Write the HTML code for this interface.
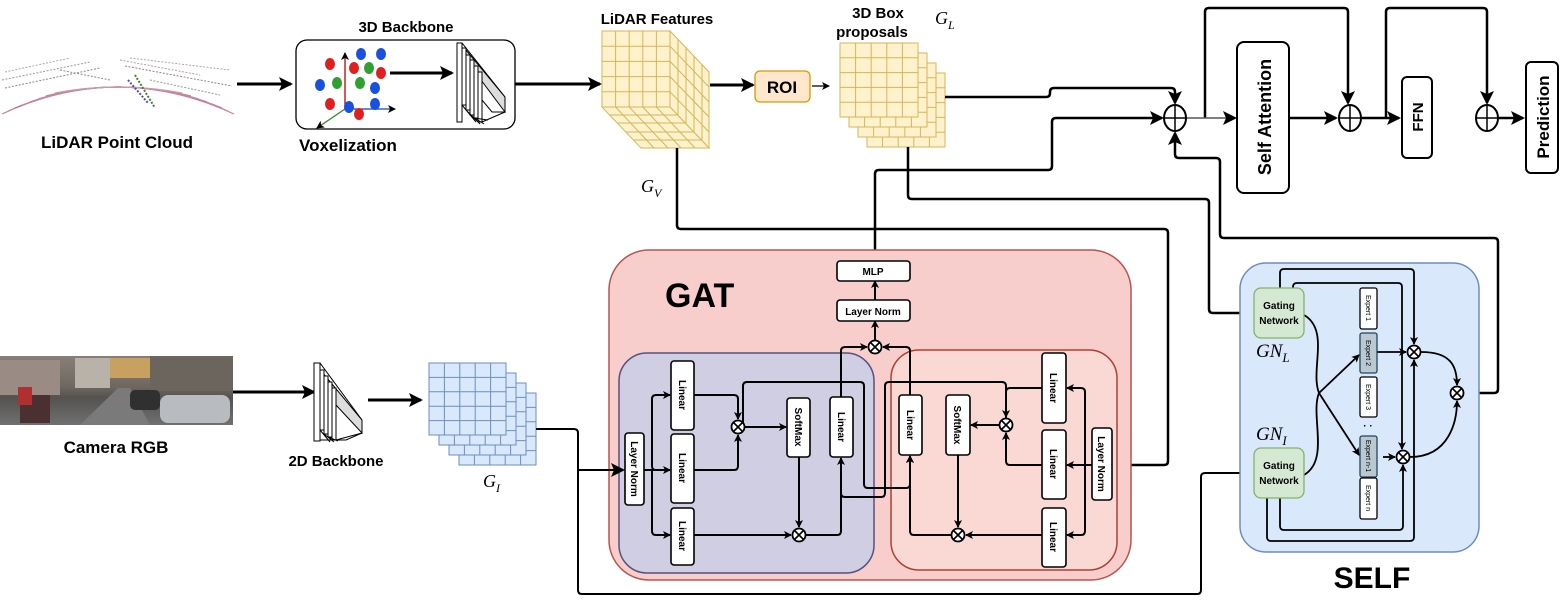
<!DOCTYPE html>
<html><head><meta charset="utf-8"><style>
html,body{margin:0;padding:0;background:#fff;}
svg{display:block;font-family:"Liberation Sans",sans-serif;}
.b{font-weight:bold;}
.m{font-family:"Liberation Serif",serif;font-style:italic;}
</style></head><body>
<svg width="1561" height="602" viewBox="0 0 1561 602" xmlns="http://www.w3.org/2000/svg">
<defs>
<marker id="a" markerWidth="8" markerHeight="8" refX="7" refY="4" orient="auto" markerUnits="userSpaceOnUse"><path d="M0,0 L8,4 L0,8 L2,4 z" fill="#000"/></marker>
<marker id="A" markerWidth="14" markerHeight="14" refX="12" refY="7" orient="auto" markerUnits="userSpaceOnUse"><path d="M0,0 L14,7 L0,14 L3,7 z" fill="#000"/></marker>
<g id="ox"><circle r="6.5" fill="#fff" stroke="#000" stroke-width="1.8"/><path d="M-4.5,-4.5L4.5,4.5M4.5,-4.5L-4.5,4.5" stroke="#000" stroke-width="1.6"/></g>
<g id="op"><ellipse rx="11" ry="13" fill="#fff" stroke="#000" stroke-width="2"/><path d="M-11,0H11M0,-13V13" stroke="#000" stroke-width="1.5"/></g>
<linearGradient id="cam" x1="0" y1="0" x2="0" y2="1"><stop offset="0" stop-color="#8a7f78"/><stop offset="0.45" stop-color="#6e6760"/><stop offset="0.6" stop-color="#55524f"/><stop offset="1" stop-color="#707070"/></linearGradient>
</defs>

<!-- LiDAR point cloud -->
<g fill="none" stroke-width="1.2">
<path d="M2,114 Q117,60 234,114" stroke="#c0809c"/>
<path d="M8,111 Q117,63 228,111" stroke="#c98aa8"/>
<path d="M15,108 Q117,66 222,108" stroke="#b87090"/>
<path d="M22,105 Q117,69 215,105" stroke="#c98aa8"/>
<path d="M30,102 Q117,72 207,102" stroke="#c0809c"/>
<path d="M38,99 Q117,75 199,99" stroke="#c98aa8"/>
<path d="M46,96 Q117,78 191,96" stroke="#b88"/>
<path d="M55,93 Q117,81 182,93" stroke="#c9a"/>
</g>
<g fill="none" stroke-width="1" stroke-dasharray="2 1.5">
<path d="M2,80 L90,62" stroke="#999"/>
<path d="M5,88 L100,68" stroke="#888"/>
<path d="M5,72 L70,58" stroke="#aaa"/>
<path d="M120,60 L200,75" stroke="#b9a"/>
<path d="M125,66 L232,86" stroke="#888"/>
<path d="M130,58 L230,70" stroke="#aaa"/>
<path d="M135,75 L155,108" stroke="#4a7a3a" stroke-width="2"/>
<path d="M128,80 L148,103" stroke="#5050a0" stroke-width="2"/>
<path d="M60,70 L110,80" stroke="#889"/>
<path d="M150,80 L220,95" stroke="#999"/>
</g>
<text x="117" y="148" text-anchor="middle" class="b" font-size="17">LiDAR Point Cloud</text>
<line x1="237" y1="84" x2="291" y2="84" stroke="#000" stroke-width="3" marker-end="url(#A)"/>

<!-- voxelization -->
<rect x="296" y="40" width="219" height="89" rx="11" fill="#fff" stroke="#000" stroke-width="1.3"/>
<text x="406" y="32" text-anchor="middle" class="b" font-size="15">3D Backbone</text>
<text x="299" y="151" class="b" font-size="17">Voxelization</text>
<line x1="345" y1="109" x2="345" y2="53" stroke="#b00" stroke-width="1.3" marker-end="url(#a)"/>
<line x1="345" y1="109" x2="395" y2="109" stroke="#1a3fb0" stroke-width="1.3" marker-end="url(#a)"/>
<line x1="345" y1="109" x2="317" y2="128" stroke="#2a8a2a" stroke-width="1.3" marker-end="url(#a)"/>
<g>
<ellipse cx="330" cy="64" rx="5" ry="6" fill="#e02020"/><ellipse cx="354" cy="68" rx="5" ry="6" fill="#e02020"/><ellipse cx="381" cy="73" rx="5" ry="6" fill="#e02020"/><ellipse cx="330" cy="104" rx="5" ry="6" fill="#e02020"/><ellipse cx="359" cy="114" rx="5" ry="6" fill="#e02020"/>
<ellipse cx="361" cy="54" rx="5" ry="6" fill="#1a50e0"/><ellipse cx="381" cy="54" rx="5" ry="6" fill="#1a50e0"/><ellipse cx="320" cy="85" rx="5" ry="6" fill="#1a50e0"/><ellipse cx="375" cy="88" rx="5" ry="6" fill="#1a50e0"/><ellipse cx="349" cy="107" rx="5" ry="6" fill="#1a50e0"/><ellipse cx="375" cy="104" rx="5" ry="6" fill="#1a50e0"/>
<ellipse cx="369" cy="68" rx="5" ry="6" fill="#30a030"/><ellipse cx="337" cy="83" rx="5" ry="6" fill="#30a030"/><ellipse cx="360" cy="83" rx="5" ry="6" fill="#30a030"/>
</g>
<line x1="390" y1="73" x2="452" y2="73" stroke="#000" stroke-width="3" marker-end="url(#A)"/>
<g stroke="#000" stroke-width="1">
<polygon points="457,43 462,43 505,97 505,112 492,112 457,70" fill="#fff"/>
<polygon points="466,50 505,97 505,112 466,60" fill="#ddd"/>
<polygon points="462,48 466,48 466,105 462,105" fill="#fff"/>
<polygon points="466,55 470,55 470,110 466,110" fill="#fff"/>
<polygon points="470,60 474,60 474,115 470,115" fill="#fff"/>
<polygon points="474,66 478,66 478,118 474,118" fill="#fff"/>
<polygon points="478,72 482,72 482,122 478,122" fill="#fff"/>
<polygon points="457,43 462,43 462,122 457,122" fill="#fff"/>
<path d="M462,105 L476,122 M466,110 L480,124 M470,115 L484,124 M474,118 L488,120 M482,122 L505,112" fill="none"/>
</g>
<line x1="515" y1="84" x2="600" y2="84" stroke="#000" stroke-width="3" marker-end="url(#A)"/>

<!-- LiDAR features cube -->
<text x="657" y="24" text-anchor="middle" class="b" font-size="15">LiDAR Features</text>
<g stroke="#d6b656" stroke-width="1" fill="#fff2cc">
<polygon points="670,31 709,72 709,148 670,107"/>
<polygon points="602,107 670,107 709,148 641,148"/>
<rect x="602" y="31" width="68" height="76"/>
<path d="M615.6,31V107M629.2,31V107M642.8,31V107M656.4,31V107M602,46.2H670M602,61.4H670M602,76.6H670M602,91.8H670" fill="none"/>
<path d="M678,39V115M686,47V123M694,56V132M702,64V140M670,46.2L709,87M670,61.4L709,102M670,76.6L709,117M670,91.8L709,132" fill="none"/>
<path d="M610,115H678M618,123H686M626,132H694M634,140H702M615.6,107L654,148M629.2,107L668,148M642.8,107L681,148M656.4,107L695,148" fill="none"/>
</g>
<text x="641" y="192" class="m" font-size="18">G<tspan font-size="12" dy="5">V</tspan></text>
<line x1="710" y1="85" x2="753" y2="85" stroke="#000" stroke-width="3" marker-end="url(#A)"/>
<rect x="755" y="71" width="55" height="31" rx="5" fill="#ffe6cc" stroke="#d79b00" stroke-width="1.3"/>
<text x="782" y="93" text-anchor="middle" class="b" font-size="17">ROI</text>
<line x1="812" y1="86" x2="829" y2="86" stroke="#000" stroke-width="1.3" marker-end="url(#a)"/>

<!-- 3D box proposals -->
<text x="878" y="18" text-anchor="middle" class="b" font-size="15">3D Box</text>
<text x="872" y="37" text-anchor="middle" class="b" font-size="15">proposals</text>
<text x="935" y="24" class="m" font-size="18">G<tspan font-size="12" dy="5">L</tspan></text>
<g stroke="#d6b656" stroke-width="1" fill="#fff2cc">
<g transform="translate(27,30)"><rect x="840" y="43" width="78" height="74"/><path d="M855.6,43V117M871.2,43V117M886.8,43V117M902.4,43V117M840,57.8H918M840,72.6H918M840,87.4H918M840,102.2H918" fill="none"/></g>
<g transform="translate(18,20)"><rect x="840" y="43" width="78" height="74"/><path d="M855.6,43V117M871.2,43V117M886.8,43V117M902.4,43V117M840,57.8H918M840,72.6H918M840,87.4H918M840,102.2H918" fill="none"/></g>
<g transform="translate(9,10)"><rect x="840" y="43" width="78" height="74"/><path d="M855.6,43V117M871.2,43V117M886.8,43V117M902.4,43V117M840,57.8H918M840,72.6H918M840,87.4H918M840,102.2H918" fill="none"/></g>
<rect x="840" y="43" width="78" height="74"/><path d="M855.6,43V117M871.2,43V117M886.8,43V117M902.4,43V117M840,57.8H918M840,72.6H918M840,87.4H918M840,102.2H918" fill="none"/>
</g>

<!-- top connectors -->
<g fill="none" stroke="#000" stroke-width="2.5">
<path d="M945,97 H1046 Q1050,97 1050,93 V92 Q1050,88 1054,88 H1171 Q1175,88 1175,92 V103" marker-end="url(#A)"/>
<path d="M875,261 V174 Q875,170 879,170 H1048 Q1052,170 1052,166 V122 Q1052,118 1056,118 H1162" marker-end="url(#A)"/>
<path d="M908,147 V195 Q908,199 912,199 H1205 Q1209,199 1209,203 V309 Q1209,313 1213,313 H1252" marker-end="url(#A)"/>
<path d="M677,148 V225 Q677,229 681,229 H1164 Q1168,229 1168,233 V461 Q1168,465 1164,465 H1114" marker-end="url(#A)"/>
<path d="M1462,393 H1494 Q1498,393 1498,389 V242 Q1498,238 1494,238 H1224 Q1220,238 1220,234 V162 Q1220,158 1216,158 H1179 Q1175,158 1175,154 V133" marker-end="url(#A)"/>
<path d="M1205,118 V12 Q1205,8 1209,8 H1344 Q1348,8 1348,12 V103" marker-end="url(#A)"/>
<path d="M1386,118 V12 Q1386,8 1390,8 H1483 Q1487,8 1487,12 V103" marker-end="url(#A)"/>
<path d="M1289,118 H1336" marker-end="url(#A)"/>
<path d="M1362,118 H1399" marker-end="url(#A)"/>
<path d="M1499,118 H1523" marker-end="url(#A)"/>
</g>
<path d="M1187,118 H1235" stroke="#555" stroke-width="1.5" fill="none" marker-end="url(#A)"/>
<use href="#op" x="1175" y="118"/>
<use href="#op" x="1350" y="118"/>
<use href="#op" x="1487" y="118"/>
<rect x="1237" y="42" width="52" height="151" rx="7" fill="#fff" stroke="#000" stroke-width="2"/>
<text transform="translate(1271,117) rotate(-90)" text-anchor="middle" class="b" font-size="18">Self Attention</text>
<rect x="1402" y="77" width="30" height="81" rx="5" fill="#fff" stroke="#000" stroke-width="2"/>
<text transform="translate(1423,117) rotate(-90)" text-anchor="middle" class="b" font-size="15">FFN</text>
<rect x="1526" y="62" width="32" height="111" rx="5" fill="#fff" stroke="#000" stroke-width="2"/>
<text transform="translate(1549,117) rotate(-90)" text-anchor="middle" class="b" font-size="17">Prediction</text>

<!-- Camera -->
<rect x="0" y="356" width="233" height="69" fill="url(#cam)"/>
<rect x="0" y="360" width="60" height="35" fill="#9a8c84"/>
<rect x="75" y="358" width="35" height="30" fill="#b8b2a8"/>
<rect x="150" y="356" width="83" height="35" fill="#6b655e"/>
<rect x="110" y="358" width="40" height="20" fill="#c8a060"/>
<path d="M80,425 L118,388 L130,388 L150,425 Z" fill="#7a7a7a"/>
<rect x="160" y="395" width="70" height="28" rx="8" fill="#b8bcc0"/>
<rect x="130" y="390" width="30" height="20" rx="5" fill="#303030"/>
<rect x="20" y="395" width="30" height="28" fill="#4a3030"/>
<rect x="18" y="387" width="14" height="18" fill="#b03030"/>
<text x="116" y="453" text-anchor="middle" class="b" font-size="17">Camera  RGB</text>
<line x1="233" y1="392" x2="314" y2="392" stroke="#000" stroke-width="3" marker-end="url(#A)"/>
<g stroke="#000" stroke-width="1">
<polygon points="314,363 320,363 362,420 362,433 346,440 314,440" fill="#fff"/>
<polygon points="322,372 362,420 362,433 322,390" fill="#ddd"/>
<rect x="320" y="370" width="4" height="60" fill="#fff"/>
<rect x="324" y="376" width="4" height="58" fill="#fff"/>
<rect x="328" y="382" width="4" height="55" fill="#fff"/>
<rect x="332" y="388" width="4" height="52" fill="#fff"/>
<rect x="314" y="363" width="6" height="78" fill="#fff"/>
<path d="M320,430 L330,442 M324,434 L334,442 M328,437 L338,441 M336,440 L362,433" fill="none"/>
</g>
<text x="336" y="466" text-anchor="middle" class="b" font-size="15">2D Backbone</text>
<line x1="368" y1="400" x2="421" y2="400" stroke="#000" stroke-width="3" marker-end="url(#A)"/>
<g stroke="#6c8ebf" stroke-width="1" fill="#dae8fc">
<g transform="translate(30,30)"><rect x="429" y="363" width="77" height="72"/><path d="M444.4,363V435M459.8,363V435M475.2,363V435M490.6,363V435M429,377.4H506M429,391.8H506M429,406.2H506M429,420.6H506" fill="none"/></g>
<g transform="translate(20,20)"><rect x="429" y="363" width="77" height="72"/><path d="M444.4,363V435M459.8,363V435M475.2,363V435M490.6,363V435M429,377.4H506M429,391.8H506M429,406.2H506M429,420.6H506" fill="none"/></g>
<g transform="translate(10,10)"><rect x="429" y="363" width="77" height="72"/><path d="M444.4,363V435M459.8,363V435M475.2,363V435M490.6,363V435M429,377.4H506M429,391.8H506M429,406.2H506M429,420.6H506" fill="none"/></g>
<rect x="429" y="363" width="77" height="72"/><path d="M444.4,363V435M459.8,363V435M475.2,363V435M490.6,363V435M429,377.4H506M429,391.8H506M429,406.2H506M429,420.6H506" fill="none"/>
</g>
<text x="483" y="487" class="m" font-size="18">G<tspan font-size="12" dy="5">I</tspan></text>

<!-- GAT -->
<rect x="609" y="250" width="522" height="330" rx="40" fill="#f8cecc" stroke="#b85450" stroke-width="1.5"/>
<text x="665" y="307" class="b" font-size="34">GAT</text>
<rect x="619" y="353" width="255" height="220" rx="28" fill="#d0cee2" stroke="#56517e" stroke-width="1.5"/>
<rect x="891" y="350" width="226" height="220" rx="28" fill="#fad9d5" stroke="#ae4132" stroke-width="1.5"/>

<g fill="none" stroke="#000" stroke-width="2">
<path d="M536,429 H574 Q578,429 578,433 V590 Q578,594 582,594 H1197 Q1201,594 1201,590 V477 Q1201,473 1205,473 H1252" marker-end="url(#A)"/>
<path d="M578,470 H623" marker-end="url(#A)"/>
<path d="M644,470 H670" marker-end="url(#a)"/>
<path d="M662,470 H656 Q652,470 652,466 V399 Q652,395 656,395 H670" marker-end="url(#a)"/>
<path d="M652,470 V531 Q652,535 656,535 H670" marker-end="url(#a)"/>
<path d="M694,395 H734 Q738,395 738,399 V419" marker-end="url(#a)"/>
<path d="M694,470 H734 Q738,470 738,466 V435" marker-end="url(#a)"/>
<path d="M745,427 H786" marker-end="url(#a)"/>
<path d="M799,457 V527" marker-end="url(#a)"/>
<path d="M694,535 H791" marker-end="url(#a)"/>
<path d="M806,535 H837 Q841,535 841,531 V458" marker-end="url(#a)"/>
<path d="M841,397 V351 Q841,347 845,347 H867" marker-end="url(#a)"/>
<path d="M910,395 V351 Q910,347 906,347 H883" marker-end="url(#a)"/>
<path d="M875,340 V321" marker-end="url(#a)"/>
<path d="M875,300 V281" marker-end="url(#a)"/>
<path d="M743,427 V386 Q743,382 747,382 H860 Q864,382 864,386 V484 Q864,488 868,488 H906 Q910,488 910,484 V456" marker-end="url(#a)"/>
<path d="M1006,425 V386 Q1006,382 1002,382 H889 Q885,382 885,386 V493 Q885,497 881,497 H845 Q841,497 841,493 V460"/>
<path d="M1092,465 H1067" marker-end="url(#a)"/>
<path d="M1085,465 V392 Q1085,388 1081,388 H1067" marker-end="url(#a)"/>
<path d="M1085,465 V531 Q1085,535 1081,535 H1067" marker-end="url(#a)"/>
<path d="M1042,388 H1010 Q1006,388 1006,392 V417" marker-end="url(#a)"/>
<path d="M1042,465 H1010 Q1006,465 1006,461 V433" marker-end="url(#a)"/>
<path d="M999,425 H971" marker-end="url(#a)"/>
<path d="M958,455 V527" marker-end="url(#a)"/>
<path d="M1042,535 H966" marker-end="url(#a)"/>
<path d="M951,535 H914 Q910,535 910,531 V456" marker-end="url(#a)"/>
</g>
<use href="#ox" x="738" y="427"/>
<use href="#ox" x="799" y="535"/>
<use href="#ox" x="875" y="347"/>
<use href="#ox" x="1006" y="425"/>
<use href="#ox" x="958" y="535"/>

<g fill="#fff" stroke="#000" stroke-width="1.6">
<rect x="837" y="261" width="73" height="20" rx="3"/>
<rect x="837" y="300" width="73" height="21" rx="3"/>
<rect x="625" y="433" width="19" height="72" rx="3"/>
<rect x="671" y="361" width="23" height="69" rx="3"/>
<rect x="671" y="434" width="23" height="69" rx="3"/>
<rect x="671" y="508" width="23" height="57" rx="3"/>
<rect x="787" y="398" width="23" height="59" rx="3"/>
<rect x="830" y="397" width="23" height="60" rx="3"/>
<rect x="899" y="395" width="23" height="60" rx="3"/>
<rect x="946" y="395" width="24" height="60" rx="3"/>
<rect x="1042" y="353" width="24" height="70" rx="3"/>
<rect x="1042" y="430" width="24" height="69" rx="3"/>
<rect x="1042" y="508" width="24" height="59" rx="3"/>
<rect x="1092" y="428" width="20" height="72" rx="3"/>
</g>
<g class="b" font-size="10" text-anchor="middle">
<text x="873" y="275">MLP</text>
<text x="873" y="315">Layer Norm</text>
<text transform="translate(631,469) rotate(90)">Layer Norm</text>
<text transform="translate(679,395) rotate(90)">Linear</text>
<text transform="translate(679,468) rotate(90)">Linear</text>
<text transform="translate(679,536) rotate(90)">Linear</text>
<text transform="translate(795,427) rotate(90)">SoftMax</text>
<text transform="translate(838,427) rotate(90)">Linear</text>
<text transform="translate(907,425) rotate(90)">Linear</text>
<text transform="translate(954,425) rotate(90)">SoftMax</text>
<text transform="translate(1050,388) rotate(90)">Linear</text>
<text transform="translate(1050,464) rotate(90)">Linear</text>
<text transform="translate(1050,537) rotate(90)">Linear</text>
<text transform="translate(1098,464) rotate(90)">Layer Norm</text>
</g>

<!-- SELF -->
<rect x="1240" y="263" width="239" height="289" rx="26" fill="#dae8fc" stroke="#6c8ebf" stroke-width="1.5"/>
<text x="1372" y="588" text-anchor="middle" class="b" font-size="30">SELF</text>
<g fill="none" stroke="#000" stroke-width="1.8">
<path d="M1280,288 V273 Q1280,269 1284,269 H1410 Q1414,269 1414,273 V344" marker-end="url(#a)"/>
<path d="M1293,288 V287 Q1293,283 1297,283 H1398 Q1402,283 1402,287 V449" marker-end="url(#a)"/>
<path d="M1267,498 V537 Q1267,541 1271,541 H1410 Q1414,541 1414,537 V360" marker-end="url(#a)"/>
<path d="M1280,498 V526 Q1280,530 1284,530 H1399 Q1403,530 1403,526 V465" marker-end="url(#a)"/>
<path d="M1304,315 C1330,330 1310,370 1319,393" />
<path d="M1304,475 C1330,460 1310,415 1319,393" />
<path d="M1319,393 L1359,355" marker-end="url(#a)"/>
<path d="M1319,393 L1359,455" marker-end="url(#a)"/>
<path d="M1377,352 H1406" marker-end="url(#a)"/>
<path d="M1383,457 H1395" marker-end="url(#a)"/>
<path d="M1421,352 C1450,352 1457,365 1457,385" marker-end="url(#a)"/>
<path d="M1410,457 C1450,457 1457,420 1457,401" marker-end="url(#a)"/>
</g>
<use href="#ox" x="1414" y="352"/>
<use href="#ox" x="1403" y="457"/>
<use href="#ox" x="1457" y="393"/>
<g stroke-width="1.3">
<rect x="1254" y="288" width="50" height="50" rx="7" fill="#d5e8d4" stroke="#82b366"/>
<rect x="1254" y="448" width="50" height="50" rx="7" fill="#d5e8d4" stroke="#82b366"/>
<rect x="1360" y="288" width="17" height="41" rx="2" fill="#fff" stroke="#000"/>
<rect x="1360" y="333" width="17" height="40" rx="2" fill="#bac8d3" stroke="#23445d"/>
<rect x="1360" y="377" width="17" height="40" rx="2" fill="#fff" stroke="#000"/>
<rect x="1360" y="436" width="17" height="41" rx="2" fill="#bac8d3" stroke="#23445d"/>
<rect x="1360" y="478" width="17" height="41" rx="2" fill="#fff" stroke="#000"/>
</g>
<text x="1368" y="429" text-anchor="middle" font-size="10" class="b">· ·</text>
<g class="b" font-size="10" text-anchor="middle">
<text x="1279" y="309">Gating</text><text x="1279" y="324">Network</text>
<text x="1279" y="469">Gating</text><text x="1279" y="484">Network</text>
</g>
<g font-size="7" text-anchor="middle">
<text transform="translate(1366,308) rotate(90)">Expert 1</text>
<text transform="translate(1366,353) rotate(90)">Expert 2</text>
<text transform="translate(1366,397) rotate(90)">Expert 3</text>
<text transform="translate(1366,456) rotate(90)">Expert n-1</text>
<text transform="translate(1366,498) rotate(90)">Expert n</text>
</g>
<text x="1256" y="357" class="m" font-size="19">GN<tspan font-size="13" dy="5">L</tspan></text>
<text x="1256" y="440" class="m" font-size="19">GN<tspan font-size="13" dy="5">I</tspan></text>
</svg>
</body></html>
